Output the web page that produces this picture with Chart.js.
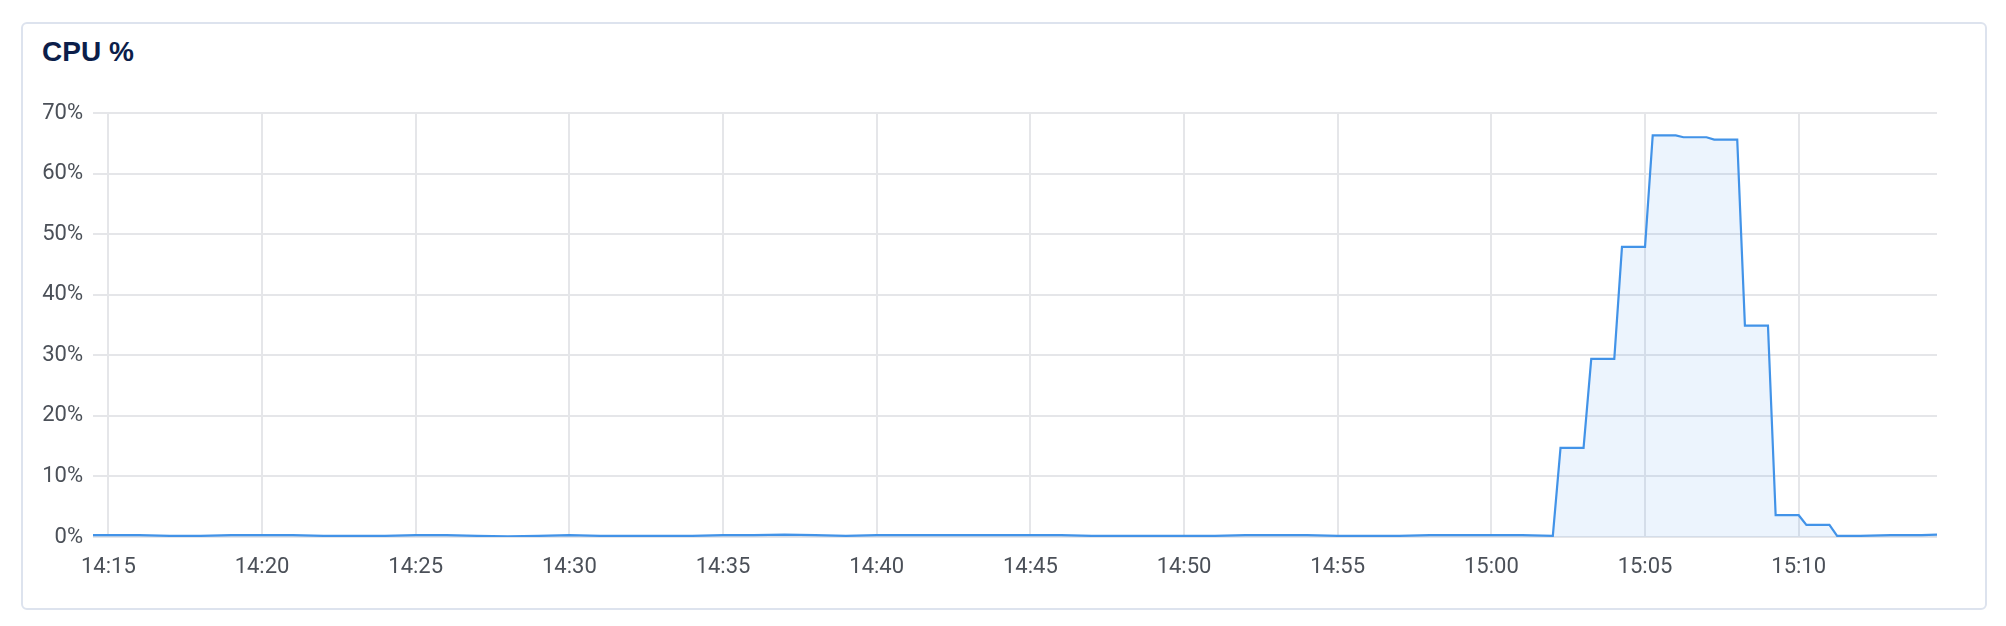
<!DOCTYPE html>
<html>
<head>
<meta charset="utf-8">
<script src="https://cdn.jsdelivr.net/npm/chart.js@4"></script>
<style>
  html, body { margin: 0; padding: 0; background: #fff; width: 2006px; height: 626px; overflow: hidden; }
  #card {
    position: absolute; left: 21px; top: 22px; width: 1962px; height: 584px;
    border: 2px solid #dde3ee; border-radius: 6px; box-sizing: content-box;
  }
  #title {
    position: absolute; left: 42px; top: 36px; margin: 0;
    font-family: "Liberation Sans", Arial, sans-serif; font-weight: bold;
    font-size: 28px; line-height: 32px; color: #0c1e4a;
  }
  #wrap { position: absolute; left: 0; top: 0; width: 2006px; height: 626px; }
</style>
</head>
<body>
<div id="card"></div>
<h2 id="title">CPU %</h2>
<div id="wrap"><canvas id="myChart" width="2006" height="626"></canvas></div>
<script>
// sample times (HH:MM:SS) and CPU usage in percent
var times = [
  "14:14:30","14:15:00","14:16:00","14:17:00","14:18:00","14:19:00","14:20:00",
  "14:21:00","14:22:00","14:23:00","14:24:00","14:25:00","14:26:00","14:27:00",
  "14:28:00","14:29:00","14:30:00","14:31:00","14:32:00","14:33:00","14:34:00",
  "14:35:00","14:36:00","14:37:00","14:38:00","14:39:00","14:40:00","14:41:00",
  "14:42:00","14:43:00","14:44:00","14:45:00","14:46:00","14:47:00","14:48:00",
  "14:49:00","14:50:00","14:51:00","14:52:00","14:53:00","14:54:00","14:55:00",
  "14:56:00","14:57:00","14:58:00","14:59:00","15:00:00","15:01:00","15:02:00",
  "15:02:15","15:03:00","15:03:15","15:04:00","15:04:15","15:05:00","15:05:15",
  "15:06:00","15:06:15","15:07:00","15:07:15","15:08:00","15:08:15","15:09:00",
  "15:09:15","15:10:00","15:10:15","15:11:00","15:11:15","15:12:00","15:13:00",
  "15:14:00","15:14:30"
];
var cpu = [
  0.3,0.3,0.3,0.2,0.2,0.3,0.3,
  0.3,0.2,0.2,0.2,0.3,0.3,0.2,
  0.1,0.2,0.3,0.2,0.2,0.2,0.2,
  0.3,0.3,0.4,0.3,0.2,0.3,0.3,
  0.3,0.3,0.3,0.3,0.3,0.2,0.2,
  0.2,0.2,0.2,0.3,0.3,0.3,0.2,
  0.2,0.2,0.3,0.3,0.3,0.3,0.2,
  14.7,14.7,29.4,29.4,47.9,47.9,66.3,
  66.3,66.0,66.0,65.6,65.6,34.9,34.9,
  3.6,3.6,2.0,2.0,0.2,0.2,0.3,
  0.3,0.4
];
var xTicks = ["14:15","14:20","14:25","14:30","14:35","14:40","14:45","14:50","14:55","15:00","15:05","15:10"];
var yTicks = [0,10,20,30,40,50,60,70];

function toMin(t){
  var p = t.split(":").map(Number);
  return p[0]*60 + p[1] + (p[2] || 0)/60;
}
function fmt(v){
  var h = Math.floor(v/60), m = Math.round(v - h*60);
  return h + ":" + (m<10 ? "0"+m : m);
}

var points = times.map((t,i)=> ({x: toMin(t), y: cpu[i]}));
var xMin = toMin(times[0]);
var xMax = toMin(times[times.length-1]);

var ctx = document.getElementById('myChart').getContext('2d');
var tickFont = { family: 'Roboto', size: 22 };
new Chart(ctx, {
  type: 'line',
  data: {
    datasets: [{
      label: 'CPU %',
      data: points,
      borderColor: '#4293e8',
      backgroundColor: 'rgba(66,147,232,0.1)',
      borderWidth: 2.2,
      fill: 'origin',
      pointRadius: 0,
      tension: 0
    }]
  },
  options: {
    responsive: false,
    animation: false,
    devicePixelRatio: 1,
    layout: { padding: { left: 0, right: 69, top: 113, bottom: 39 } },
    plugins: { legend: { display: false }, tooltip: { enabled: false } },
    scales: {
      x: {
        type: 'linear',
        min: xMin,
        max: xMax,
        border: { display: false },
        grid: { color: '#e5e6e9', lineWidth: 2, drawTicks: false },
        afterFit: (s)=> { s.height = 50; },
        afterBuildTicks: (s)=> { s.ticks = xTicks.map(t=>({value: toMin(t)})); },
        ticks: {
          padding: 17,
          maxRotation: 0,
          autoSkip: false,
          color: '#4b5058',
          font: tickFont,
          callback: (v)=> fmt(v)
        }
      },
      y: {
        min: 0,
        max: 70,
        border: { display: false },
        grid: { color: '#e5e6e9', lineWidth: 2, drawTicks: false },
        afterFit: (s)=> { s.width = 93; },
        afterBuildTicks: (s)=> { s.ticks = yTicks.map(v=>({value: v})); },
        ticks: {
          padding: 10,
          color: '#4b5058',
          font: tickFont,
          callback: (v)=> v + '%'
        }
      }
    }
  }
});
</script>
</body>
</html>
